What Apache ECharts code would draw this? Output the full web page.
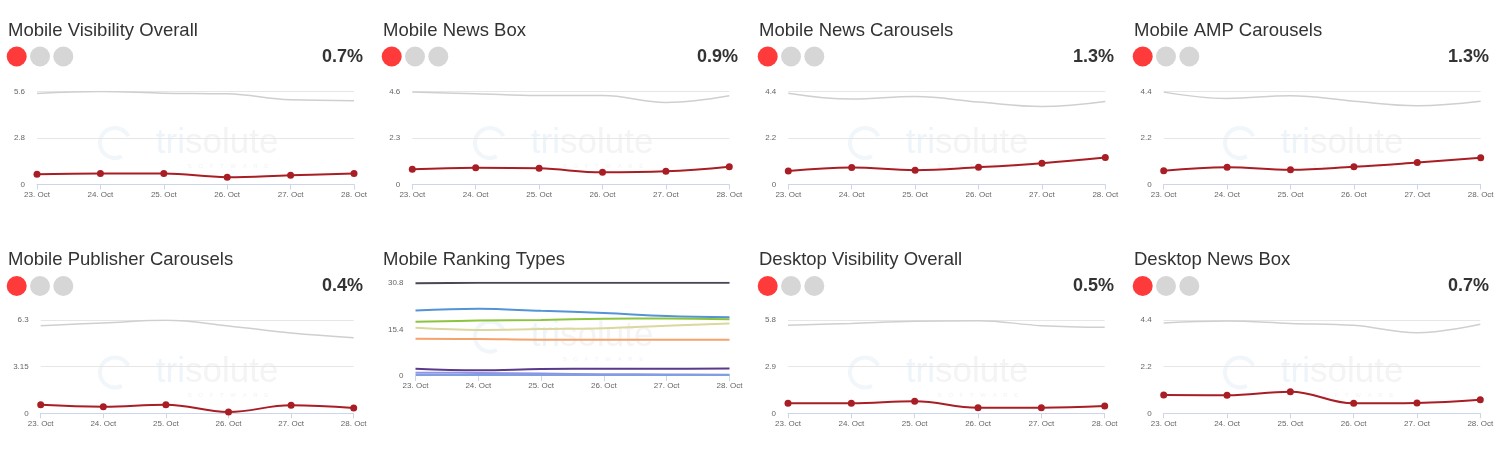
<!DOCTYPE html>
<html>
<head>
<meta charset="utf-8">
<script src="https://cdn.jsdelivr.net/npm/echarts@6/dist/echarts.min.js"></script>
<style>
html,body{margin:0;padding:0;background:#fff;}
#c{width:1500px;height:456px;}
</style>
</head>
<body>
<div id="c"></div>
<script>
// ---------- DATA ----------
const dates = ['23. Oct', '24. Oct', '25. Oct', '26. Oct', '27. Oct', '28. Oct'];
const panelTitles = ['Mobile Visibility Overall', 'Mobile News Box', 'Mobile News Carousels', 'Mobile AMP Carousels',
                     'Mobile Publisher Carousels', 'Mobile Ranking Types', 'Desktop Visibility Overall', 'Desktop News Box'];
const percentLabels = ['0.7%', '0.9%', '1.3%', '1.3%', '0.4%', null, '0.5%', '0.7%'];
const yMax = [5.6, 4.6, 4.4, 4.4, 6.3, 30.8, 5.8, 4.4];

const mobVisRed  = [0.62, 0.66, 0.66, 0.44, 0.56, 0.66];
const mobVisGray = [5.48, 5.60, 5.50, 5.46, 5.10, 5.05];
const mobNewsBoxRed  = [0.75, 0.83, 0.80, 0.60, 0.65, 0.88];
const mobNewsBoxGray = [4.57, 4.49, 4.40, 4.40, 4.06, 4.39];
const mobNewsCarRed  = [0.64, 0.81, 0.68, 0.82, 1.01, 1.28];
const mobNewsCarGray = [4.32, 4.04, 4.16, 3.90, 3.69, 3.93];
const mobAmpRed  = [0.65, 0.82, 0.70, 0.84, 1.04, 1.26];
const mobAmpGray = [4.37, 4.07, 4.20, 3.94, 3.73, 3.94];
const mobPubRed  = [0.58, 0.45, 0.58, 0.09, 0.54, 0.36];
const mobPubGray = [5.92, 6.10, 6.28, 5.90, 5.42, 5.10];
const deskVisRed  = [0.62, 0.62, 0.75, 0.35, 0.35, 0.45];
const deskVisGray = [5.47, 5.59, 5.72, 5.76, 5.45, 5.35];
const deskNewsRed  = [0.86, 0.85, 1.02, 0.47, 0.49, 0.64];
const deskNewsGray = [4.26, 4.35, 4.24, 4.15, 3.80, 4.20];

// Mobile Ranking Types
const rankTypeA = [30.6, 30.8, 30.8, 30.8, 30.8, 30.8];
const rankTypeB = [21.6, 22.2, 21.5, 20.8, 19.8, 19.4];
const rankTypeC = [17.9, 18.3, 18.5, 18.9, 19.0, 18.7];
const rankTypeD = [15.9, 15.2, 15.5, 15.8, 16.6, 17.3];
const rankTypeE = [12.3, 12.2, 12.0, 12.0, 12.0, 12.0];
const rankTypeF = [2.4, 1.9, 2.3, 2.4, 2.4, 2.5];
const rankTypeG = [1.1, 1.0, 0.8, 0.6, 0.5, 0.4];
const rankTypeH = [0.3, 0.3, 0.3, 0.3, 0.3, 0.3];

const redSeries  = [mobVisRed, mobNewsBoxRed, mobNewsCarRed, mobAmpRed, mobPubRed, null, deskVisRed, deskNewsRed];
const graySeries = [mobVisGray, mobNewsBoxGray, mobNewsCarGray, mobAmpGray, mobPubGray, null, deskVisGray, deskNewsGray];
const rankSeries = [rankTypeA, rankTypeB, rankTypeC, rankTypeD, rankTypeE, rankTypeF, rankTypeG, rankTypeH];
const rankColors = ['#474a55', '#5393d6', '#8cc43f', '#dcd79c', '#f4a36c', '#5a3a8a', '#8f95e4', '#7f9fe2'];

// ---------- LAYOUT ----------
const gridBoxes = [
  {left: 37,     top: 91.5, width: 317, height: 93},
  {left: 412.3,  top: 91.5, width: 317, height: 93},
  {left: 788.3,  top: 91.5, width: 317, height: 93},
  {left: 1163.7, top: 91.5, width: 317, height: 93},
  {left: 40.7,   top: 320,  width: 313, height: 93.3},
  {left: 415.5,  top: 282.7,width: 314, height: 93.3},
  {left: 788,    top: 320,  width: 316.7, height: 93.3},
  {left: 1163.7, top: 320,  width: 316.6, height: 93.3}
];
const panelX = [0, 375, 750, 1125, 0, 375, 750, 1125];
const panelY = [0, 0, 0, 0, 229.5, 229.5, 229.5, 229.5];
const FONT = '"Liberation Sans", Arial, Helvetica, sans-serif';

const grids = [], xAxes = [], yAxes = [], series = [], graphics = [];

for (let i = 0; i < 8; i++) {
  const py = panelY[i];
  const isRank = i === 5;
  grids.push(Object.assign({containLabel: false}, gridBoxes[i]));
  xAxes.push({
    type: 'category', gridIndex: i, data: dates, boundaryGap: false,
    axisLine: {show: !isRank, lineStyle: {color: '#ccd6eb', width: 1}},
    axisTick: {show: true, length: 5, lineStyle: {color: '#ccd6eb'}},
    axisLabel: {fontSize: 8, color: '#666', margin: 6, fontFamily: FONT}
  });
  yAxes.push({
    type: 'value', gridIndex: i, min: 0, max: yMax[i], interval: yMax[i] / 2,
    axisLine: {show: false}, axisTick: {show: false},
    axisLabel: {fontSize: 8, color: '#666', margin: 12, fontFamily: FONT},
    splitLine: {show: !isRank, lineStyle: {color: '#e6e6e6', width: 1}}
  });

  // watermark
  const wy = isRank ? 336.7 : 143 + py;
  const wx = 185 + panelX[i];
  graphics.push({type: 'arc', silent: true, z: 0,
    shape: {cx: wx - 70, cy: wy, r: 15, startAngle: Math.PI * 0.35, endAngle: Math.PI * 1.85},
    style: {stroke: '#f1f6fb', lineWidth: 4, fill: null}});
  graphics.push({type: 'text', silent: true, z: 0,
    style: {text: 'tri', x: wx, y: wy, font: '35px ' + FONT, fill: '#edf4fa',
            textAlign: 'right', align: 'right', textVerticalAlign: 'middle', verticalAlign: 'middle'}});
  graphics.push({type: 'text', silent: true, z: 0,
    style: {text: 'solute', x: wx, y: wy, font: '35px ' + FONT, fill: '#f4f4f4',
            textAlign: 'left', align: 'left', textVerticalAlign: 'middle', verticalAlign: 'middle'}});
  graphics.push({type: 'text', silent: true, z: 0,
    style: {text: 'S    O    F    T    W    A    R    E', x: wx + 43, y: wy + 23, font: '6px ' + FONT, fill: '#f2f2f2',
            textAlign: 'center', align: 'center', textVerticalAlign: 'middle', verticalAlign: 'middle'}});

  // title
  graphics.push({type: 'text', z: 10,
    style: {text: panelTitles[i], x: panelX[i] + 8 + (i % 4 >= 2 ? 1 : 0), y: 30.5 + py, font: '18.5px ' + FONT, fill: '#333',
            textAlign: 'left', align: 'left', textVerticalAlign: 'middle', verticalAlign: 'middle'}});

  if (!isRank) {
    const cx0 = panelX[i] + 16.7 + (i % 4 >= 2 ? 1 : 0);
    const cols = ['#ff3a3a', '#d6d6d6', '#d6d6d6'];
    for (let k = 0; k < 3; k++) {
      graphics.push({type: 'circle', z: 10, shape: {cx: cx0 + k * 23.3, cy: 56.5 + py, r: 10}, style: {fill: cols[k]}});
    }
    graphics.push({type: 'text', z: 10,
      style: {text: percentLabels[i], x: panelX[i] + 363 + (i % 4 >= 2 ? 1 : 0), y: 57 + py, font: 'bold 18px ' + FONT, fill: '#333',
              textAlign: 'right', align: 'right', textVerticalAlign: 'middle', verticalAlign: 'middle'}});

    series.push({type: 'line', xAxisIndex: i, yAxisIndex: i, data: graySeries[i], smooth: 0.4,
      showSymbol: false, symbol: 'none', lineStyle: {color: '#cfcfcf', width: 1.5}, silent: true, z: 2});
    series.push({type: 'line', xAxisIndex: i, yAxisIndex: i, data: redSeries[i], smooth: 0.4,
      symbol: 'circle', symbolSize: 7, itemStyle: {color: '#a81e24'},
      lineStyle: {color: '#a81e24', width: 2}, silent: true, z: 3});
  } else {
    rankSeries.forEach((d, k) => {
      series.push({type: 'line', xAxisIndex: i, yAxisIndex: i, data: d, smooth: 0.4,
        symbol: 'none', lineStyle: {color: rankColors[k], width: 2}, silent: true, z: 3});
    });
  }
}

const chart = echarts.init(document.getElementById('c'), null, {renderer: 'canvas'});
chart.setOption({
  animation: false,
  backgroundColor: '#fff',
  grid: grids, xAxis: xAxes, yAxis: yAxes, series: series,
  graphic: {elements: graphics}
});
</script>
</body>
</html>
